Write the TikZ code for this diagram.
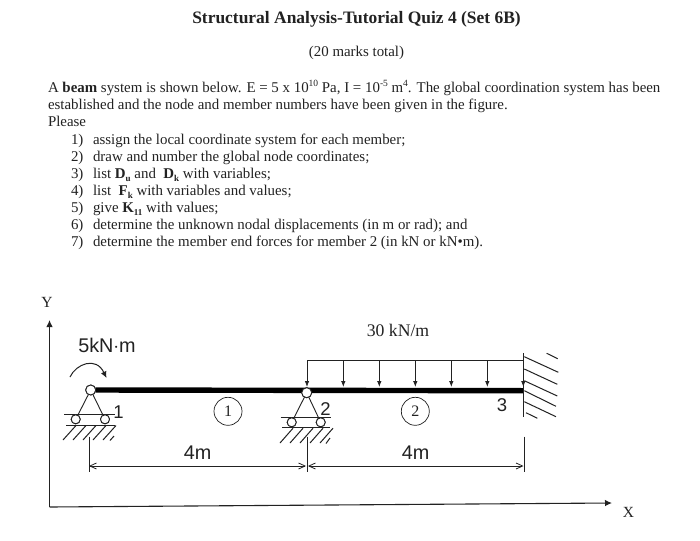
\documentclass[tikz,border=0pt]{standalone}
\usepackage{fontspec}
\setmainfont{Liberation Serif}
\newfontfamily\arialf{Liberation Sans}
\usetikzlibrary{arrows.meta}
\definecolor{ink}{HTML}{222222}
\newcommand{\supr}[1]{\raisebox{0.42em}{\fontsize{9.5}{10}\selectfont #1}}
\newcommand{\subr}[1]{\raisebox{-0.2em}{\fontsize{9}{10}\selectfont\textbf{#1}}}
\tikzset{
 x=1pt,y=-1pt,
 txt/.style={anchor=base west,inner sep=0pt,outer sep=0pt,text=ink,font=\fontsize{14.9}{16}\selectfont},
 lab/.style={inner sep=0pt,outer sep=0pt,text=ink,font=\arialf\fontsize{19.8}{20}\selectfont},
 serlab/.style={inner sep=0pt,outer sep=0pt,text=ink,font=\fontsize{15.5}{16}\selectfont},
 numlab/.style={inner sep=0pt,outer sep=0pt,text=ink,font=\arialf\fontsize{18.5}{20}\selectfont},
 ln/.style={draw=ink,line width=0.9pt},
 thin1/.style={draw=ink,line width=0.8pt},
 beamline/.style={draw=black,line width=5.4pt},
 pin/.style={circle,draw=ink,fill=white,line width=0.9pt,minimum size=10pt,inner sep=0pt,outer sep=0pt},
 roller/.style={circle,draw=ink,fill=white,line width=0.9pt,minimum size=9pt,inner sep=0pt,outer sep=0pt},
 member/.style={circle,draw=ink,line width=0.7pt,minimum size=28pt,inner sep=0pt,outer sep=0pt,text=ink,font=\fontsize{16}{18}\selectfont},
 axisline/.style={draw=ink,line width=1.1pt,-{Latex[length=7pt,width=6.5pt]}},
 loadarrow/.style={draw=ink,line width=0.8pt,-{Latex[length=6pt,width=4.5pt]}},
 dimarrow/.style={draw=ink,line width=0.8pt,{Straight Barb[length=6.5pt,width=6pt]}-{Straight Barb[length=6.5pt,width=6pt]}},
 hatchline/.style={draw=ink,line width=1pt},
}
\begin{document}
\begin{tikzpicture}
\useasboundingbox (0,0) rectangle (700,540);
\fill[white] (0,0) rectangle (700,540);
% Text
\node[txt,anchor=base,font=\bfseries\fontsize{17.45}{18}\selectfont] (title) at (356.5,24) {Structural Analysis-Tutorial Quiz 4 (Set 6B)};
\node[txt,anchor=base] (marks) at (356.5,57) {(20 marks total)};
\node[txt] (l1) at (48,92.5) {A \textbf{beam} system is shown below. E = 5 x 10\supr{10} Pa, I = 10\supr{-5} m\supr{4}. The global coordination system has been};
\node[txt] (l2) at (48,109.5) {established and the node and member numbers have been given in the figure.};
\node[txt] (l3) at (48,126.5) {Please};
\node[txt] (n1) at (71,144.5) {1)};
\node[txt] (i1) at (93,144.5) {assign the local coordinate system for each member;};
\node[txt] (n2) at (71,161.5) {2)};
\node[txt] (i2) at (93,161.5) {draw and number the global node coordinates;};
\node[txt] (n3) at (71,178.5) {3)};
\node[txt] (i3) at (93,178.5) {list \textbf{D}\subr{u} and \ \textbf{D}\subr{k} with variables;};
\node[txt] (n4) at (71,195.5) {4)};
\node[txt] (i4) at (93,195.5) {list \ \textbf{F}\subr{k} with variables and values;};
\node[txt] (n5) at (71,212.5) {5)};
\node[txt] (i5) at (93,212.5) {give \textbf{K}\subr{11} with values;};
\node[txt] (n6) at (71,229.5) {6)};
\node[txt] (i6) at (93,229.5) {determine the unknown nodal displacements (in m or rad); and};
\node[txt] (n7) at (71,246.5) {7)};
\node[txt] (i7) at (93,246.5) {determine the member end forces for member 2 (in kN or kN\textbullet m).};
% Axes
\coordinate (O) at (49.5,507);
\coordinate (Ytip) at (49.5,320);
\coordinate (Xtip) at (612,503);
\draw[axisline] (O) -- (Ytip);
\draw[axisline] (O) -- (Xtip);
\node[serlab] (Y) at (47,302) {Y};
\node[serlab] (X) at (628.5,512.5) {X};
% Load
\coordinate (LA) at (307,360.7);
\coordinate (LB) at (524,360.7);
\draw[thin1] (LA) -- (LB);
\foreach \px in {307,343.3,379.3,415.3,451.3,487.3,523.3}
  \draw[loadarrow] (\px,360.7) -- (\px,387);
% Beam
\coordinate (W) at (523.7,390.7);
\node[pin] (P1) at (90.7,390) {};
\node[pin] (P2) at (306.7,392.7) {};
\draw[beamline] (P1) -- (W);
\node[pin] at (P1) {};
\node[pin] at (P2) {};
% Support 1
\node[roller] (R1a) at (75.7,419.3) {};
\node[roller] (R1b) at (105,419.3) {};
\draw[ln] (P1) -- (R1a);
\draw[ln] (P1) -- (R1b);
\draw[ln] (64,414.7) -- (115,414.7);
\draw[ln] (66,425) -- (115,425);
\node[roller] at (R1a) {};
\node[roller] at (R1b) {};
\foreach \hx in {66,76,86,96,106}
  \draw[hatchline] (\hx+10,425.5) -- (\hx-3,440);
\draw[hatchline] (114,436) -- (110,440.5);
% Support 2
\node[roller] (R2a) at (291.7,422.3) {};
\node[roller] (R2b) at (320.7,422.3) {};
\draw[ln] (P2) -- (R2a);
\draw[ln] (P2) -- (R2b);
\draw[ln] (280.7,417) -- (331,417);
\draw[ln] (282,427.7) -- (330,427.7);
\node[roller] at (R2a) {};
\node[roller] at (R2b) {};
\foreach \hx in {283,293,303,313,323}
  \draw[hatchline] (\hx+10,428.2) -- (\hx-3,443);
\draw[hatchline] (330,438) -- (326,443.5);
% Wall
\draw[ln] (523.7,353) -- (523.7,416.7);
\draw[hatchline] (524.3,356.7) -- (558.3,372.3);
\draw[hatchline] (524.3,369) -- (557.3,384.3);
\draw[hatchline] (524.3,380.7) -- (557.3,396);
\draw[hatchline] (524.3,390.7) -- (556,406.3);
\draw[hatchline] (524.3,401.7) -- (556,416.7);
\draw[hatchline] (526,412.7) -- (537.3,418.3);
\draw[hatchline] (546.7,353.3) -- (557.7,358.7);
% Moment
\coordinate (M1) at (70,377);
\coordinate (M2) at (106.5,378);
\draw[draw=ink,line width=1pt,-{Latex[length=6.5pt,width=6pt]}] (M1) .. controls (76,364) and (96,356) .. (M2);
\node[lab] (moment) at (107,345) {5kN$\cdot$m};
\node[numlab] (N1) at (118.5,412) {1};
\node[numlab] (N2) at (325.5,409) {2};
\node[numlab] (N3) at (502,405.5) {3};
\node[serlab,font=\fontsize{17.7}{18}\selectfont] (q) at (398,330.5) {30 kN/m};
\node[member] (m1) at (228,411.3) {1};
\node[member] (m2) at (415.3,411.3) {2};
% Dimensions
\coordinate (D1a) at (89,436.7); \coordinate (D1b) at (89,472.3);
\coordinate (D2a) at (307,436.7); \coordinate (D2b) at (307,472.3);
\coordinate (D3a) at (524.3,436.7); \coordinate (D3b) at (524.3,472.3);
\draw[ln] (D1a) -- (D1b);
\draw[ln] (D2a) -- (D2b);
\draw[ln] (D3a) -- (D3b);
\draw[dimarrow] (89,466) -- (306,466);
\draw[dimarrow] (308,466) -- (523.5,466);
\node[lab] (d1) at (197.5,452.5) {4m};
\node[lab] (d2) at (415.5,452.5) {4m};
\end{tikzpicture}
\end{document}
